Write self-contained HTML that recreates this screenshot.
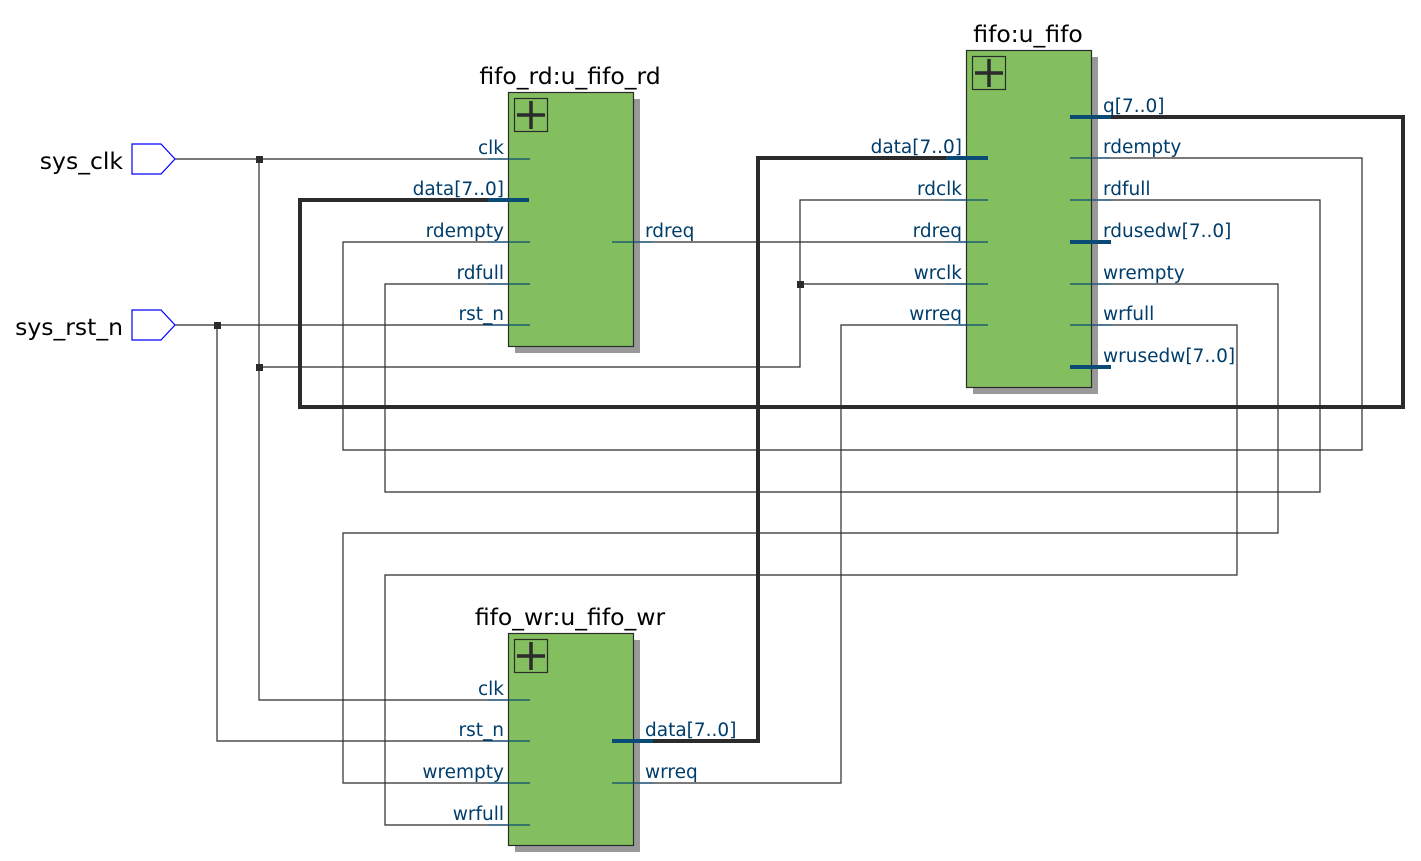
<!DOCTYPE html>
<html><head><meta charset="utf-8"><style>
html,body{margin:0;padding:0;background:#fff;}
svg{display:block;}
text{font-family:"DejaVu Sans","Liberation Sans",sans-serif;}
.l{fill:#003d6b;font-size:18.5px;}
.t{fill:#000;font-size:23.5px;}
.w{stroke:#2b2b2b;stroke-width:1.2;fill:none;}
.b{stroke:#2b2b2b;stroke-width:4;fill:none;}
.s{stroke:#0a4a75;stroke-width:1.2;}
.sb{stroke:#0a4a75;stroke-width:4;}
</style></head><body>
<svg width="1421" height="861" viewBox="0 0 1421 861" xmlns="http://www.w3.org/2000/svg">
<g class="w">
<polyline points="175,159 529,159"/>
<polyline points="259,159 259,700 529,700"/>
<polyline points="259,367 800,367 800,200 988,200"/>
<polyline points="800,284 988,284"/>
<polyline points="175,325 529,325"/>
<polyline points="217,325 217,741 529,741"/>
<polyline points="612,242 988,242"/>
<polyline points="1070,158 1362,158 1362,450 343,450 343,242 529,242"/>
<polyline points="1070,200 1320,200 1320,492 385,492 385,284 529,284"/>
<polyline points="1070,284 1278,284 1278,533 343,533 343,783 529,783"/>
<polyline points="1070,325 1237,325 1237,575 385,575 385,825 529,825"/>
<polyline points="612,783 841,783 841,325 988,325"/>
</g>
<g class="b">
<polyline points="1070,117 1403,117 1403,407 300,407 300,200 529,200"/>
<polyline points="612,741 758,741 758,158 988,158"/>
</g>
<g fill="#2b2b2b">
<rect x="256" y="156" width="7" height="7"/>
<rect x="256" y="364" width="7" height="7"/>
<rect x="214" y="322" width="7" height="7"/>
<rect x="797" y="281" width="7" height="7"/>
</g>
<g stroke="#0000ff" stroke-width="1.2" fill="#fff">
<polygon points="132,144 161,144 175,159 161,174 132,174"/>
<polygon points="132,310 161,310 175,325 161,340 132,340"/>
</g>
<text class="t" x="123" y="169" text-anchor="end">sys_clk</text>
<text class="t" x="123" y="335" text-anchor="end">sys_rst_n</text>

<rect x="515" y="99" width="125" height="254" fill="#999"/>
<rect x="508.5" y="92.5" width="125" height="254" fill="#83bf5f" stroke="#2b2b2b" stroke-width="1.2"/>
<rect x="514.5" y="98.5" width="33" height="33" fill="none" stroke="#2b2b2b" stroke-width="1.2"/>
<path d="M517 115H545M531 101V129" stroke="#2b2b2b" stroke-width="3.5"/>
<text class="t" x="570" y="84" text-anchor="middle">fifo_rd:u_fifo_rd</text>
<g class="s"><line x1="488" y1="159" x2="530" y2="159"/><line x1="488" y1="242" x2="530" y2="242"/><line x1="488" y1="284" x2="530" y2="284"/><line x1="488" y1="325" x2="530" y2="325"/><line x1="612" y1="242" x2="653" y2="242"/></g>
<line class="sb" x1="488" y1="200" x2="529" y2="200"/>
<g class="l" text-anchor="end">
<text x="504" y="154">clk</text><text x="504" y="195">data[7..0]</text><text x="504" y="237">rdempty</text><text x="504" y="279">rdfull</text><text x="504" y="320">rst_n</text>
</g>
<text class="l" x="645" y="237">rdreq</text>

<rect x="973" y="57" width="125" height="337" fill="#999"/>
<rect x="966.5" y="50.5" width="125" height="337" fill="#83bf5f" stroke="#2b2b2b" stroke-width="1.2"/>
<rect x="972.5" y="56.5" width="33" height="33" fill="none" stroke="#2b2b2b" stroke-width="1.2"/>
<path d="M975 73H1003M989 59V87" stroke="#2b2b2b" stroke-width="3.5"/>
<text class="t" x="1028" y="42" text-anchor="middle">fifo:u_fifo</text>
<g class="s"><line x1="946" y1="200" x2="988" y2="200"/><line x1="946" y1="242" x2="988" y2="242"/><line x1="946" y1="284" x2="988" y2="284"/><line x1="946" y1="325" x2="988" y2="325"/>
<line x1="1070" y1="158" x2="1111" y2="158"/><line x1="1070" y1="200" x2="1111" y2="200"/><line x1="1070" y1="284" x2="1111" y2="284"/><line x1="1070" y1="325" x2="1111" y2="325"/></g>
<g class="sb"><line x1="946" y1="158" x2="988" y2="158"/><line x1="1070" y1="117" x2="1111" y2="117"/><line x1="1070" y1="242" x2="1111" y2="242"/><line x1="1070" y1="367" x2="1111" y2="367"/></g>
<g class="l" text-anchor="end">
<text x="962" y="153">data[7..0]</text><text x="962" y="195">rdclk</text><text x="962" y="237">rdreq</text><text x="962" y="279">wrclk</text><text x="962" y="320">wrreq</text>
</g>
<g class="l">
<text x="1103" y="112">q[7..0]</text><text x="1103" y="153">rdempty</text><text x="1103" y="195">rdfull</text><text x="1103" y="237">rdusedw[7..0]</text><text x="1103" y="279">wrempty</text><text x="1103" y="320">wrfull</text><text x="1103" y="362">wrusedw[7..0]</text>
</g>

<rect x="515" y="640" width="125" height="212" fill="#999"/>
<rect x="508.5" y="633.5" width="125" height="212" fill="#83bf5f" stroke="#2b2b2b" stroke-width="1.2"/>
<rect x="514.5" y="639.5" width="33" height="33" fill="none" stroke="#2b2b2b" stroke-width="1.2"/>
<path d="M517 656H545M531 642V670" stroke="#2b2b2b" stroke-width="3.5"/>
<text class="t" x="570" y="625" text-anchor="middle">fifo_wr:u_fifo_wr</text>
<g class="s"><line x1="488" y1="700" x2="530" y2="700"/><line x1="488" y1="741" x2="530" y2="741"/><line x1="488" y1="783" x2="530" y2="783"/><line x1="488" y1="825" x2="530" y2="825"/><line x1="612" y1="783" x2="653" y2="783"/></g>
<line class="sb" x1="612" y1="741" x2="653" y2="741"/>
<g class="l" text-anchor="end">
<text x="504" y="695">clk</text><text x="504" y="736">rst_n</text><text x="504" y="778">wrempty</text><text x="504" y="820">wrfull</text>
</g>
<text class="l" x="645" y="736">data[7..0]</text>
<text class="l" x="645" y="778">wrreq</text>
</svg>
</body></html>
